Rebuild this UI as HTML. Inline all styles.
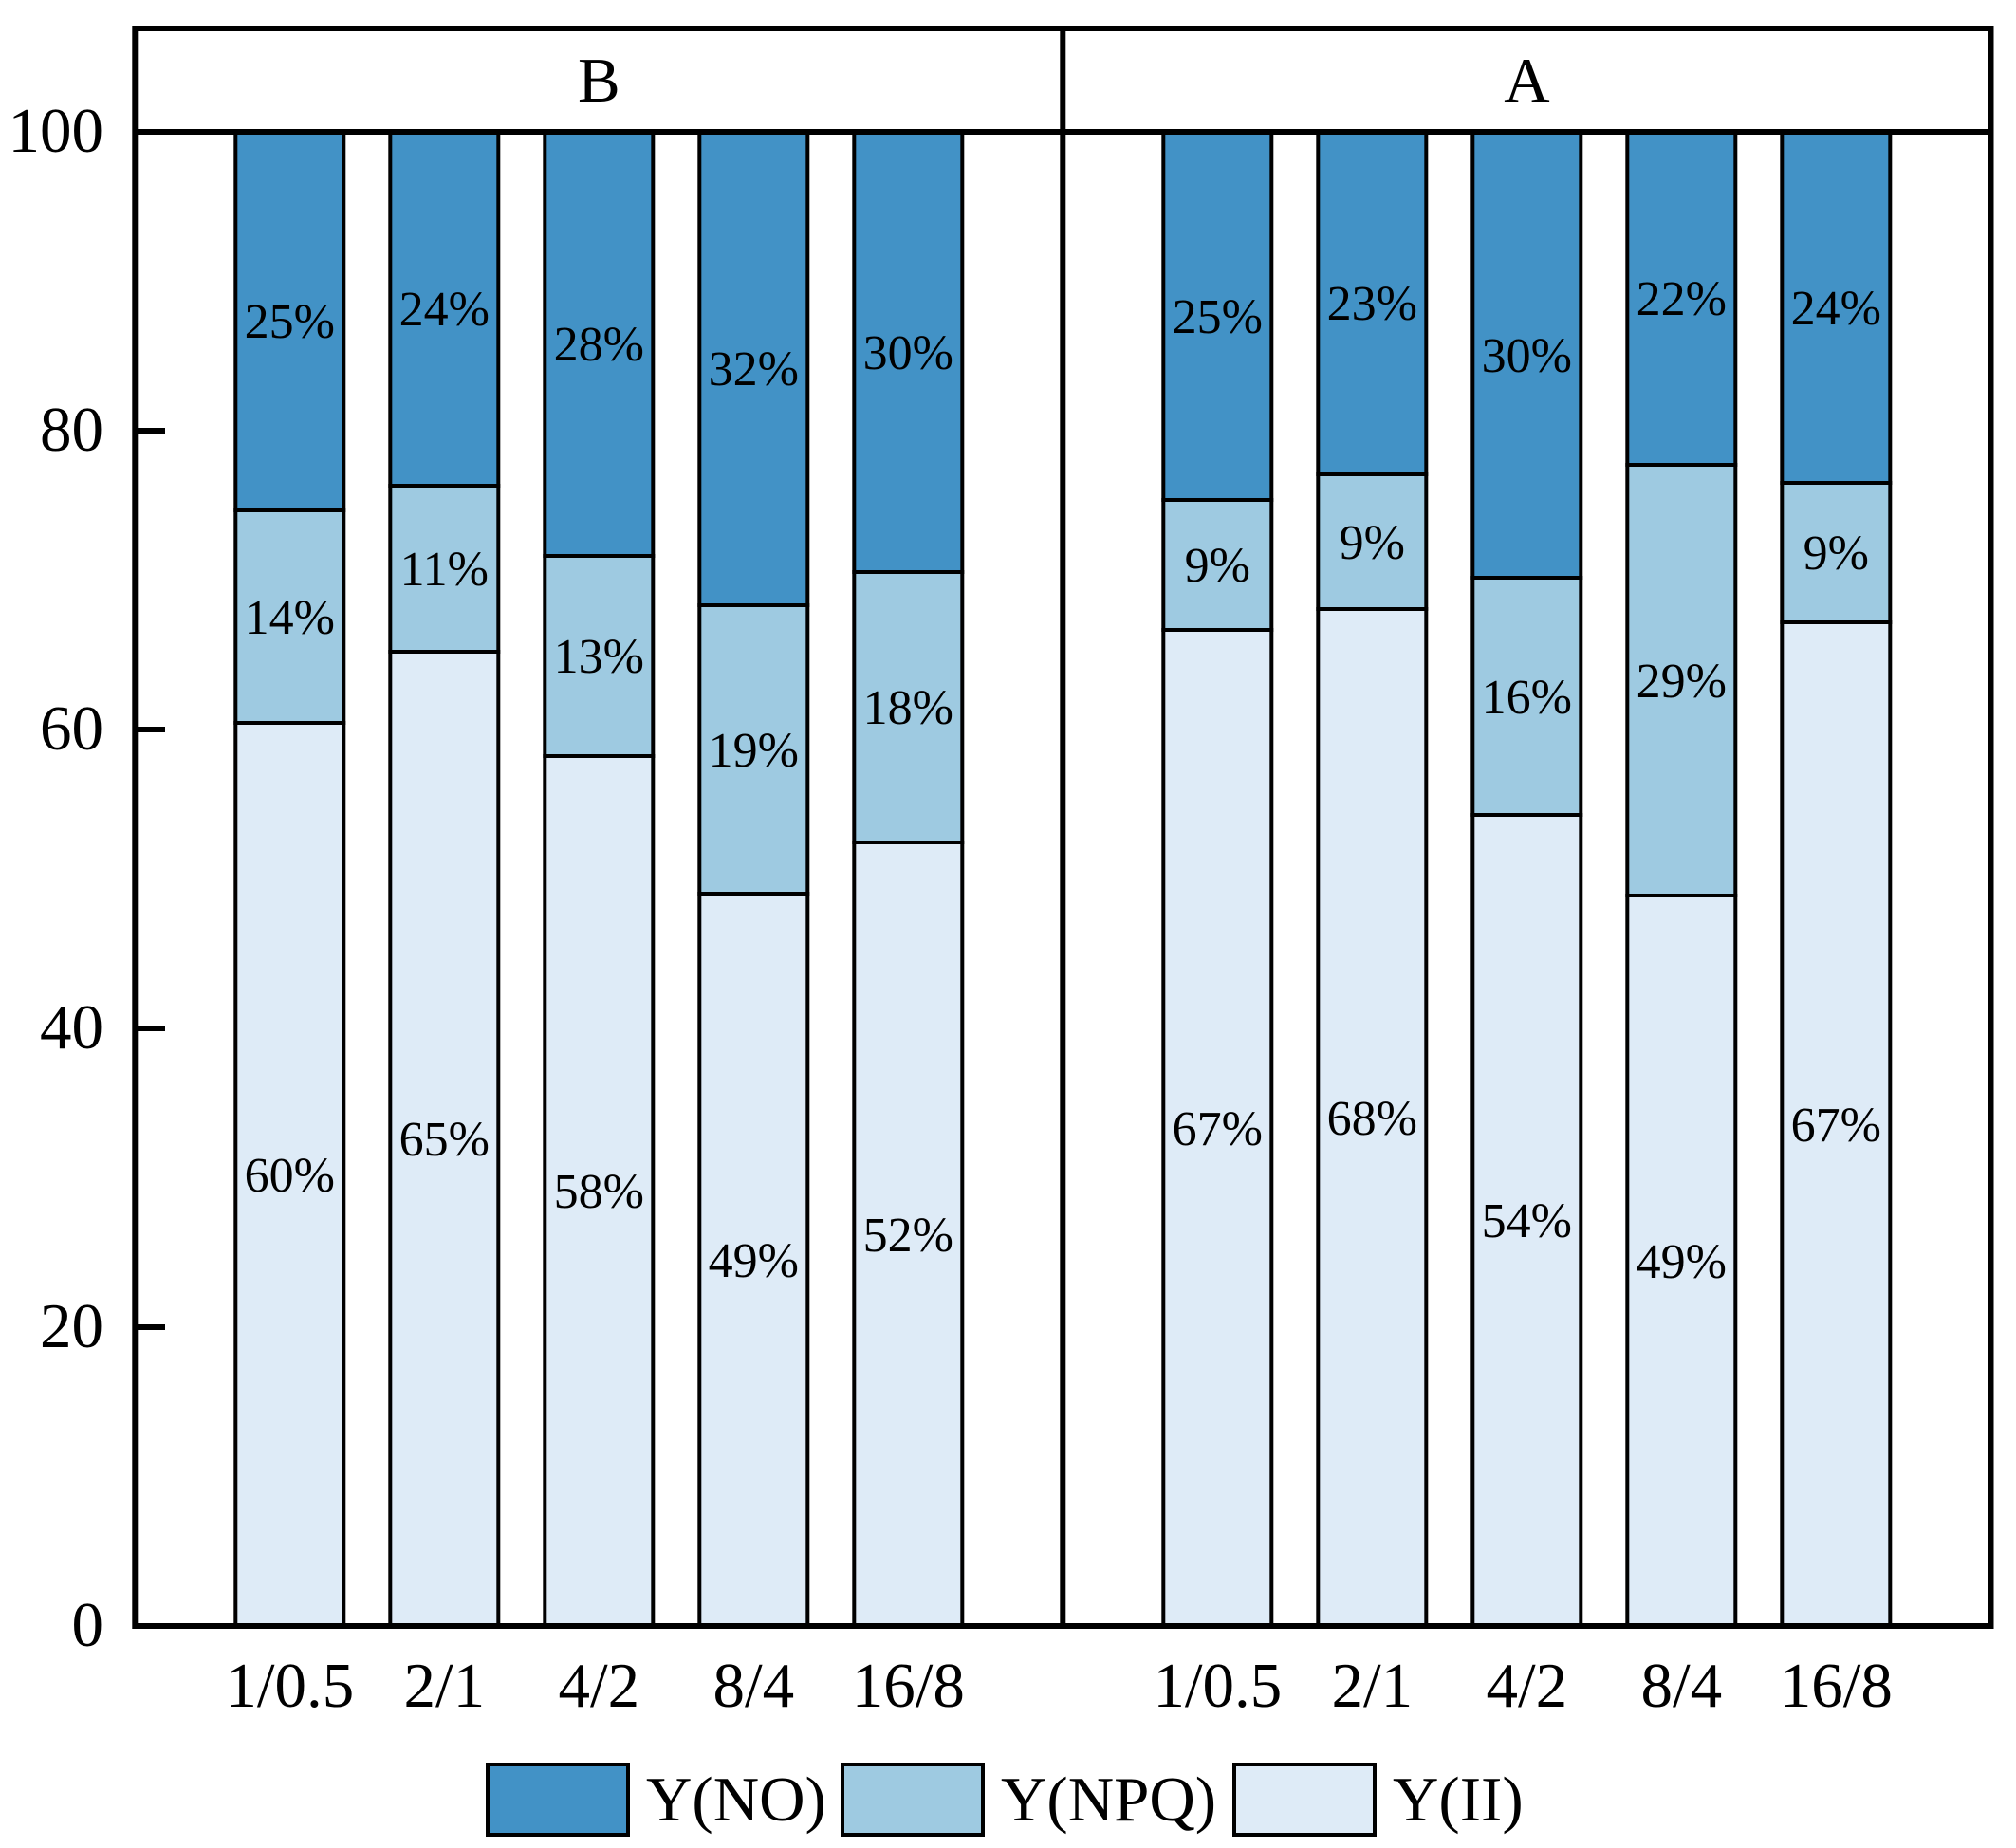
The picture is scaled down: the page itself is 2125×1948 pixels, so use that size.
<!DOCTYPE html>
<html>
<head>
<meta charset="utf-8">
<style>
html,body{margin:0;padding:0;background:#fff;}
svg{display:block;}
text{font-family:"Liberation Serif","DejaVu Serif",serif;fill:#000;}
</style>
</head>
<body>
<svg width="2125" height="1948" viewBox="0 0 2125 1948" xmlns="http://www.w3.org/2000/svg">
<rect x="0" y="0" width="2125" height="1948" fill="#fff"/>

<rect x="142" y="30" width="1956" height="109" fill="#fff"/>

<g stroke="#000" stroke-width="4">
<!-- B1 -->
<rect x="248.3" y="762" width="114" height="952" fill="#DEEBF7"/>
<rect x="248.3" y="538" width="114" height="224" fill="#9ECAE1"/>
<rect x="248.3" y="139" width="114" height="399" fill="#4292C6"/>
<!-- B2 -->
<rect x="411.3" y="687" width="114" height="1027" fill="#DEEBF7"/>
<rect x="411.3" y="512" width="114" height="175" fill="#9ECAE1"/>
<rect x="411.3" y="139" width="114" height="373" fill="#4292C6"/>
<!-- B3 -->
<rect x="574.3" y="797" width="114" height="917" fill="#DEEBF7"/>
<rect x="574.3" y="586" width="114" height="211" fill="#9ECAE1"/>
<rect x="574.3" y="139" width="114" height="447" fill="#4292C6"/>
<!-- B4 -->
<rect x="737.3" y="942" width="114" height="772" fill="#DEEBF7"/>
<rect x="737.3" y="638" width="114" height="304" fill="#9ECAE1"/>
<rect x="737.3" y="139" width="114" height="499" fill="#4292C6"/>
<!-- B5 -->
<rect x="900.3" y="888" width="114" height="826" fill="#DEEBF7"/>
<rect x="900.3" y="603" width="114" height="285" fill="#9ECAE1"/>
<rect x="900.3" y="139" width="114" height="464" fill="#4292C6"/>

<!-- A1 -->
<rect x="1226.3" y="664" width="114" height="1050" fill="#DEEBF7"/>
<rect x="1226.3" y="527" width="114" height="137" fill="#9ECAE1"/>
<rect x="1226.3" y="139" width="114" height="388" fill="#4292C6"/>
<!-- A2 -->
<rect x="1389.3" y="642" width="114" height="1072" fill="#DEEBF7"/>
<rect x="1389.3" y="500" width="114" height="142" fill="#9ECAE1"/>
<rect x="1389.3" y="139" width="114" height="361" fill="#4292C6"/>
<!-- A3 -->
<rect x="1552.3" y="859" width="114" height="855" fill="#DEEBF7"/>
<rect x="1552.3" y="609" width="114" height="250" fill="#9ECAE1"/>
<rect x="1552.3" y="139" width="114" height="470" fill="#4292C6"/>
<!-- A4 -->
<rect x="1715.3" y="944" width="114" height="770" fill="#DEEBF7"/>
<rect x="1715.3" y="490" width="114" height="454" fill="#9ECAE1"/>
<rect x="1715.3" y="139" width="114" height="351" fill="#4292C6"/>
<!-- A5 -->
<rect x="1878.3" y="656" width="114" height="1058" fill="#DEEBF7"/>
<rect x="1878.3" y="509" width="114" height="147" fill="#9ECAE1"/>
<rect x="1878.3" y="139" width="114" height="370" fill="#4292C6"/>
</g>

<g stroke="#000" stroke-width="6" fill="none">
<rect x="142.3" y="30" width="1956.2" height="1684"/>
<line x1="142.3" y1="139" x2="2098.5" y2="139"/>
<line x1="1120.3" y1="30" x2="1120.3" y2="1714"/>
<line x1="142" y1="1399" x2="174" y2="1399"/>
<line x1="142" y1="1084" x2="174" y2="1084"/>
<line x1="142" y1="769" x2="174" y2="769"/>
<line x1="142" y1="454" x2="174" y2="454"/>
</g>

<text x="631.3" y="107" font-size="67" text-anchor="middle">B</text>
<text x="1609.4" y="107" font-size="67" text-anchor="middle">A</text>

<g font-size="67" text-anchor="end">
<text x="109" y="160">100</text>
<text x="109" y="475">80</text>
<text x="109" y="790">60</text>
<text x="109" y="1105">40</text>
<text x="109" y="1420">20</text>
<text x="109" y="1735">0</text>
</g>

<g font-size="67" text-anchor="middle">
<text x="305.3" y="1799">1/0.5</text>
<text x="468.3" y="1799">2/1</text>
<text x="631.3" y="1799">4/2</text>
<text x="794.3" y="1799">8/4</text>
<text x="957.3" y="1799">16/8</text>
<text x="1283.3" y="1799">1/0.5</text>
<text x="1446.3" y="1799">2/1</text>
<text x="1609.3" y="1799">4/2</text>
<text x="1772.3" y="1799">8/4</text>
<text x="1935.3" y="1799">16/8</text>
</g>

<g font-size="52" text-anchor="middle">
<text x="305.3" y="356">25%</text>
<text x="305.3" y="668">14%</text>
<text x="305.3" y="1256">60%</text>

<text x="468.3" y="343">24%</text>
<text x="468.3" y="617">11%</text>
<text x="468.3" y="1218">65%</text>

<text x="631.3" y="380">28%</text>
<text x="631.3" y="709">13%</text>
<text x="631.3" y="1273">58%</text>

<text x="794.3" y="406">32%</text>
<text x="794.3" y="808">19%</text>
<text x="794.3" y="1346">49%</text>

<text x="957.3" y="389">30%</text>
<text x="957.3" y="763">18%</text>
<text x="957.3" y="1319">52%</text>

<text x="1283.3" y="351">25%</text>
<text x="1283.3" y="613">9%</text>
<text x="1283.3" y="1207">67%</text>

<text x="1446.3" y="337">23%</text>
<text x="1446.3" y="589">9%</text>
<text x="1446.3" y="1196">68%</text>

<text x="1609.3" y="392">30%</text>
<text x="1609.3" y="752">16%</text>
<text x="1609.3" y="1304">54%</text>

<text x="1772.3" y="332">22%</text>
<text x="1772.3" y="735">29%</text>
<text x="1772.3" y="1347">49%</text>

<text x="1935.3" y="342">24%</text>
<text x="1935.3" y="600">9%</text>
<text x="1935.3" y="1203">67%</text>
</g>

<g stroke="#000" stroke-width="4">
<rect x="514" y="1860" width="148" height="74" fill="#4292C6"/>
<rect x="888" y="1860" width="148" height="74" fill="#9ECAE1"/>
<rect x="1301" y="1860" width="148" height="74" fill="#DEEBF7"/>
</g>
<g font-size="67">
<text x="681" y="1919">Y(NO)</text>
<text x="1055" y="1919">Y(NPQ)</text>
<text x="1468" y="1919">Y(II)</text>
</g>
</svg>
</body>
</html>
